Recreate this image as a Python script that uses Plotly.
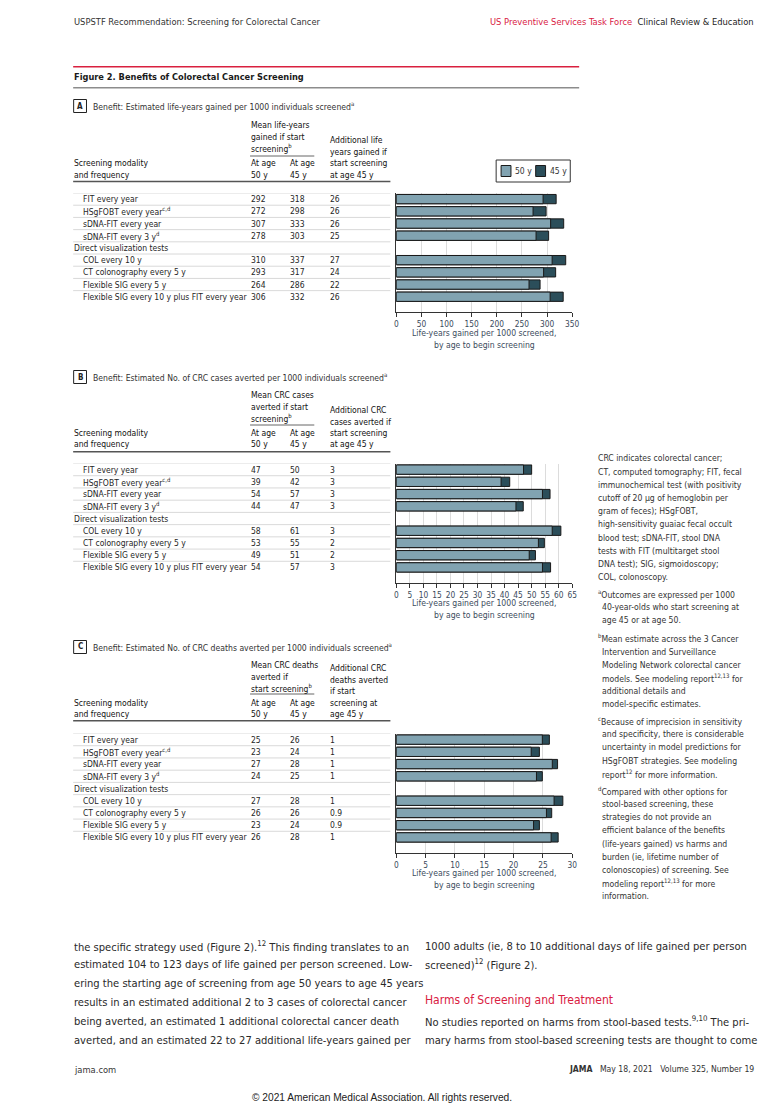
import plotly.graph_objects as go

W, H = 768, 1120
FONT = "DejaVu Sans Condensed, Liberation Sans Narrow, Arial Narrow, sans-serif"
SANS = "Liberation Sans, Arial, sans-serif"
RED = "#D9203F"
LIGHT = "#81A3B1"
DARK = "#2B4E5A"
TXT = "#262626"

# ---------------- data ----------------
groups = ["Stool tests", "Direct visualization tests"]
group_rows = [0, 5]
modalities = [
    "FIT every year",
    "HSgFOBT every year<sup>c,d</sup>",
    "sDNA-FIT every year",
    "sDNA-FIT every 3 y<sup>d</sup>",
    "COL every 10 y",
    "CT colonography every 5 y",
    "Flexible SIG every 5 y",
    "Flexible SIG every 10 y plus FIT every year",
]
modality_rows = [1, 2, 3, 4, 6, 7, 8, 9]

# Panel A: life-years gained per 1000
life_50 = ["292", "272", "307", "278", "310", "293", "264", "306"]
life_45 = ["318", "298", "333", "303", "337", "317", "286", "332"]
life_add = ["26", "26", "26", "25", "27", "24", "22", "26"]
life_bar_50 = [292, 272, 307, 278, 310, 293, 264, 306]
life_bar_45 = [318, 298, 333, 303, 337, 317, 286, 332]

# Panel B: CRC cases averted per 1000
cases_50 = ["47", "39", "54", "44", "58", "53", "49", "54"]
cases_45 = ["50", "42", "57", "47", "61", "55", "51", "57"]
cases_add = ["3", "3", "3", "3", "3", "2", "2", "3"]
cases_bar_50 = [47.0, 38.7, 54.0, 44.2, 57.6, 52.5, 49.1, 54.0]
cases_bar_45 = [50.0, 41.9, 56.8, 46.9, 60.8, 54.7, 51.4, 57.0]

# Panel C: CRC deaths averted per 1000
deaths_50 = ["25", "23", "27", "24", "27", "26", "23", "26"]
deaths_45 = ["26", "24", "28", "25", "28", "26", "24", "28"]
deaths_add = ["1", "1", "1", "1", "1", "0.9", "0.9", "1"]
deaths_bar_50 = [24.9, 23.0, 26.6, 23.9, 26.9, 25.6, 23.4, 26.4]
deaths_bar_45 = [26.1, 24.4, 27.5, 24.9, 28.4, 26.5, 24.4, 27.6]

axis_max = [350, 65, 30]
axis_dtick = [50, 5, 5]
axis_title = ["Life-years gained per 1000 screened,", "by age to begin screening"]

footnote_blocks = [
    ["CRC indicates colorectal cancer;",
     "CT, computed tomography; FIT, fecal",
     "immunochemical test (with positivity",
     "cutoff of 20 µg of hemoglobin per",
     "gram of feces); HSgFOBT,",
     "high-sensitivity guaiac fecal occult",
     "blood test; sDNA-FIT, stool DNA",
     "tests with FIT (multitarget stool",
     "DNA test); SIG, sigmoidoscopy;",
     "COL, colonoscopy."],
    ["<sup>a</sup>Outcomes are expressed per 1000",
     "40-year-olds who start screening at",
     "age 45 or at age 50."],
    ["<sup>b</sup>Mean estimate across the 3 Cancer",
     "Intervention and Surveillance",
     "Modeling Network colorectal cancer",
     "models. See modeling report<sup>12,13</sup> for",
     "additional details and",
     "model-specific estimates."],
    ["<sup>c</sup>Because of imprecision in sensitivity",
     "and specificity, there is considerable",
     "uncertainty in model predictions for",
     "HSgFOBT strategies. See modeling",
     "report<sup>12</sup> for more information."],
    ["<sup>d</sup>Compared with other options for",
     "stool-based screening, these",
     "strategies do not provide an",
     "efficient balance of the benefits",
     "(life-years gained) vs harms and",
     "burden (ie, lifetime number of",
     "colonoscopies) of screening. See",
     "modeling report<sup>12,13</sup> for more",
     "information."],
]
footnote_starts = [458.3, 594, 638.3, 721, 790.7]

body_left = [
    "the specific strategy used (Figure 2).<sup>12</sup> This finding translates to an",
    "estimated 104 to 123 days of life gained per person screened. Low-",
    "ering the starting age of screening from age 50 years to age 45 years",
    "results in an estimated additional 2 to 3 cases of colorectal cancer",
    "being averted, an estimated 1 additional colorectal cancer death",
    "averted, and an estimated 22 to 27 additional life-years gained per",
]
body_right = [
    "1000 adults (ie, 8 to 10 additional days of life gained per person",
    "screened)<sup>12</sup> (Figure 2).",
    None,
    None,
    "No studies reported on harms from stool-based tests.<sup>9,10</sup> The pri-",
    "mary harms from stool-based screening tests are thought to come",
]

# ---------------- layout helpers (page pixel -> paper) ----------------
def X(px):
    return px / W


def Y(py):
    return 1 - py / H


annotations = []
shapes = []

TS = 8.5  # table text size


def ann(text, px, py, size=TS, color=TXT, xanchor="left", family=FONT, yref="paper", yval=None):
    annotations.append(dict(
        text=text, x=X(px), y=(Y(py) if yval is None else yval),
        xref="paper", yref=yref, xanchor=xanchor, yanchor="middle",
        showarrow=False, font=dict(size=size, color=color, family=family)))


def hline(x0, x1, py, color, width, yref="paper", yval=None):
    yy = Y(py) if yval is None else yval
    shapes.append(dict(type="line", xref="paper", yref=yref, x0=X(x0), x1=X(x1),
                       y0=yy, y1=yy, line=dict(color=color, width=width)))


# page header
ann("USPSTF Recommendation: Screening for Colorectal Cancer", 71, 21, size=9.3, color="#333")
ann("<span style='color:%s'>US Preventive Services Task Force</span>  Clinical Review &amp; Education" % RED,
    763, 21, size=9.3, color="#222", xanchor="right")

# figure title
hline(72, 584, 66.7, RED, 1.5)
ann("<b>Figure 2. Benefits of Colorectal Cancer Screening</b>", 71, 77, size=9.2, color="#1a1a1a")
hline(72, 584, 87.7, "#8c8c8c", 1.5)

panels = [
    dict(letter="A",
         title="Benefit: Estimated life-years gained per 1000 individuals screened<sup>a</sup>",
         label_y=106, col1=["Mean life-years", "gained if start", "screening<sup>b</sup>"],
         col1_y=[125, 136.7, 148.3], under_y=156,
         col3=["Additional life", "years gained if", "start screening", "at age 45 y"],
         col3_y=[140, 151.7, 163.3, 175], mod_y=[163.3, 175], hline_y=181.5,
         top=193, bottom=312, t_y=[333, 344.7],
         v50=life_50, v45=life_45, vadd=life_add, b50=life_bar_50, b45=life_bar_45),
    dict(letter="B",
         title="Benefit: Estimated No. of CRC cases averted per 1000 individuals screened<sup>a</sup>",
         label_y=377, col1=["Mean CRC cases", "averted if start", "screening<sup>b</sup>"],
         col1_y=[395, 406.7, 417.7], under_y=425,
         col3=["Additional CRC", "cases averted if", "start screening", "at age 45 y"],
         col3_y=[410, 421.7, 432.7, 444], mod_y=[432.7, 444], hline_y=451.7,
         top=463.5, bottom=582.7, t_y=[603, 614.5],
         v50=cases_50, v45=cases_45, vadd=cases_add, b50=cases_bar_50, b45=cases_bar_45),
    dict(letter="C",
         title="Benefit: Estimated No. of CRC deaths averted per 1000 individuals screened<sup>a</sup>",
         label_y=647, col1=["Mean CRC deaths", "averted if", "start screening<sup>b</sup>"],
         col1_y=[665, 676.7, 688.3], under_y=694,
         col3=["Additional CRC", "deaths averted", "if start", "screening at", "age 45 y"],
         col3_y=[668.3, 680, 691.3, 702.7, 714], mod_y=[702.7, 714], hline_y=720.7,
         top=733.5, bottom=852.7, t_y=[873, 884.5],
         v50=deaths_50, v45=deaths_45, vadd=deaths_add, b50=deaths_bar_50, b45=deaths_bar_45),
]

fig = go.Figure()
PLOT_X0, PLOT_X1 = 399, 577
HDR = "#111111"

for i, p in enumerate(panels):
    k = "" if i == 0 else str(i + 1)
    xa, ya = "x" + k, "y" + k
    # bars: 45 y behind, 50 y in front
    fig.add_trace(go.Bar(orientation="h", x=p["b45"], y=modality_rows, name="45 y",
                         marker=dict(color=DARK, line=dict(color="#1a1a1a", width=1)),
                         width=0.76, xaxis=xa, yaxis=ya, showlegend=False))
    fig.add_trace(go.Bar(orientation="h", x=p["b50"], y=modality_rows, name="50 y",
                         marker=dict(color=LIGHT, line=dict(color="#1a1a1a", width=1)),
                         width=0.76, xaxis=xa, yaxis=ya, showlegend=False))
    fig.layout["xaxis" + k] = dict(
        domain=[X(PLOT_X0), X(PLOT_X1)], anchor=ya, range=[0, axis_max[i]],
        dtick=axis_dtick[i], tick0=0, showgrid=True, gridcolor="#dcdcdc", gridwidth=1,
        showline=True, linecolor="#333", linewidth=1, ticks="outside", ticklen=4,
        tickcolor="#333", tickfont=dict(size=8.3, color="#3b4b5c", family=FONT),
        zeroline=False, fixedrange=True)
    fig.layout["yaxis" + k] = dict(
        domain=[Y(p["bottom"]), Y(p["top"])], anchor=xa, range=[10.25, 0.5],
        showticklabels=False, showgrid=False, showline=True, linecolor="#333",
        linewidth=1, ticks="", zeroline=False, fixedrange=True)

    # panel label box and title
    shapes.append(dict(type="rect", xref="paper", yref="paper", x0=X(72.5), x1=X(85.5),
                       y0=Y(p["label_y"] + 6.5), y1=Y(p["label_y"] - 6.5),
                       line=dict(color="#222", width=1)))
    ann("<b>%s</b>" % p["letter"], 79, p["label_y"], size=8, color="#222", xanchor="center")
    ann(p["title"], 90, p["label_y"], size=8.6, color="#333")

    # table header
    for t, yy in zip(p["col1"], p["col1_y"]):
        ann(t, 250, yy, color=HDR)
    hline(251, 316, p["under_y"], "#666", 1)
    ann("At age", 250, p["mod_y"][0], color=HDR)
    ann("50 y", 250, p["mod_y"][1], color=HDR)
    ann("At age", 289, p["mod_y"][0], color=HDR)
    ann("45 y", 289, p["mod_y"][1], color=HDR)
    ann("Screening modality", 71, p["mod_y"][0], color=HDR)
    ann("and frequency", 71, p["mod_y"][1], color=HDR)
    for t, yy in zip(p["col3"], p["col3_y"]):
        ann(t, 330, yy, color=HDR)
    hline(72, 393, p["hline_y"], "#555", 1.6)

    # row separators
    for r in range(9):
        shapes.append(dict(type="line", xref="paper", yref=ya, x0=X(72), x1=X(393),
                           y0=r + 0.5, y1=r + 0.5, line=dict(color="#c8c8c8", width=0.7)))

    # table body
    for g, r in zip(groups, group_rows):
        ann(g, 71, 0, yref=ya, yval=r)
    for m, r, a, b, c in zip(modalities, modality_rows, p["v50"], p["v45"], p["vadd"]):
        ann(m, 80, 0, yref=ya, yval=r)
        ann(a, 250, 0, yref=ya, yval=r)
        ann(b, 289, 0, yref=ya, yval=r)
        ann(c, 330, 0, yref=ya, yval=r)

    # axis title
    for t, yy in zip(axis_title, p["t_y"]):
        ann(t, (PLOT_X0 + PLOT_X1) / 2, yy, size=8.6, color="#3b4b5c", xanchor="center")

# legend (panel A)
shapes.append(dict(type="rect", xref="paper", yref="paper", x0=X(500), x1=X(575),
                   y0=Y(182), y1=Y(160), line=dict(color="#333", width=1)))
shapes.append(dict(type="rect", xref="paper", yref="paper", x0=X(505), x1=X(515),
                   y0=Y(176.5), y1=Y(165.5), fillcolor=LIGHT, line=dict(color="#1a1a1a", width=1)))
shapes.append(dict(type="rect", xref="paper", yref="paper", x0=X(540), x1=X(550),
                   y0=Y(176.5), y1=Y(165.5), fillcolor=DARK, line=dict(color="#1a1a1a", width=1)))
ann("50 y", 517, 171, size=8.5, color="#333")
ann("45 y", 552, 171, size=8.5, color="#333")

# footnotes on right
for block, start in zip(footnote_blocks, footnote_starts):
    for j, line in enumerate(block):
        indent = 601 if (j == 0 or block is footnote_blocks[0]) else 605
        ann(line, indent, start + j * 13.2, size=8.6, color="#333")

# body text
body_y = [946, 964.8, 983.6, 1002.4, 1021.2, 1040]
for t, yy in zip(body_left, body_y):
    ann(t, 71, yy, size=11.1, color="#2a2a2a")
for t, yy in zip(body_right, body_y):
    if t:
        ann(t, 426, yy, size=11.1, color="#2a2a2a")
ann("Harms of Screening and Treatment", 426, 1000, size=12, color=RED)

# footer
ann("jama.com", 71, 1069, size=9.3, color="#333")
ann("<b>JAMA</b>   May 18, 2021   Volume 325, Number 19", 763, 1069, size=8.6,
    color="#333", xanchor="right")
ann("© 2021 American Medical Association. All rights reserved.", 384, 1097, size=10.2,
    color="#222", xanchor="center", family=SANS)

fig.update_layout(
    width=W, height=H, autosize=False,
    margin=dict(l=0, r=0, t=0, b=0),
    paper_bgcolor="white", plot_bgcolor="white",
    barmode="overlay", showlegend=False,
    font=dict(family=FONT, color=TXT),
    annotations=annotations, shapes=shapes,
)

fig.write_html("out.html",
               config={"displayModeBar": False, "staticPlot": True},
               post_script="document.body.style.margin='0';document.body.style.overflow='hidden';")
